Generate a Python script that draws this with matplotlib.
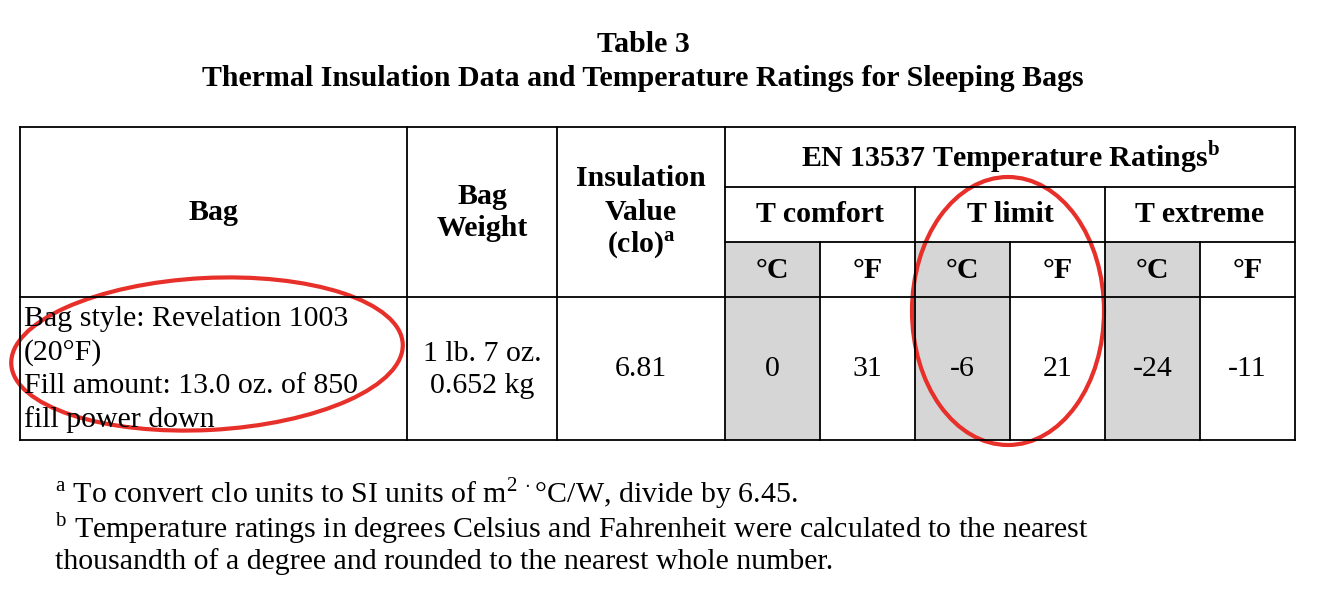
import matplotlib
matplotlib.use("Agg")
import matplotlib.pyplot as plt
from matplotlib.patches import Rectangle, Ellipse

plt.rcParams['font.family'] = ['Liberation Serif', 'DejaVu Serif']
plt.rcParams['mathtext.fontset'] = 'custom'
plt.rcParams['mathtext.rm'] = 'Liberation Serif'
plt.rcParams['mathtext.bf'] = 'Liberation Serif:bold'

title_lines = ["Table 3", "Thermal Insulation Data and Temperature Ratings for Sleeping Bags"]
bag_text = ["Bag style: Revelation 1003", "(20°F)", "Fill amount: 13.0 oz. of 850", "fill power down"]
weight_text = ["1 lb. 7 oz.", "0.652 kg"]
clo_value = "6.81"
rating_groups = ["T comfort", "T limit", "T extreme"]
units = ["°C", "°F"]
rating_values = ["0", "31", "-6", "21", "-24", "-11"]

fig = plt.figure(figsize=(13.2, 6), dpi=100)
ax = fig.add_axes([0, 0, 1, 1])
ax.set_xlim(0, 1320); ax.set_ylim(600, 0); ax.axis('off')

L, R, T, B = 20, 1295, 127, 440
colx = [725, 820, 915, 1010, 1105, 1200, 1295]
for i in (0, 2, 4):
    ax.add_patch(Rectangle((colx[i], 242), colx[i+1]-colx[i], B-242, fc='#d6d6d6', ec='none'))
lw = 1.3
def hl(y, x0, x1): ax.plot([x0, x1], [y, y], color='black', lw=lw)
def vl(x, y0, y1): ax.plot([x, x], [y0, y1], color='black', lw=lw)
hl(T, L, R); hl(B, L, R); hl(297, L, R)
hl(187, 725, R); hl(242, 725, R)
vl(L, T, B); vl(R, T, B)
for x in (407, 557, 725): vl(x, T, B)
for x in (915, 1105): vl(x, 187, B)
for x in (820, 1010, 1200): vl(x, 242, B)

fs = 21.5
tfs = 21.5
ax.text(643, 44, title_lines[0], ha='center', va='center', fontsize=tfs, fontweight='bold')
ax.text(643, 78, title_lines[1], ha='center', va='center', fontsize=tfs, fontweight='bold')

ax.text(213, 213, "Bag", ha='center', va='center', fontsize=fs, fontweight='bold')
ax.text(482, 197, "Bag", ha='center', va='center', fontsize=fs, fontweight='bold')
ax.text(482, 229, "Weight", ha='center', va='center', fontsize=fs, fontweight='bold')
ax.text(641, 179, "Insulation", ha='center', va='center', fontsize=fs, fontweight='bold')
ax.text(641, 212, "Value", ha='center', va='center', fontsize=fs, fontweight='bold')
ax.text(641, 245, r"(clo)$^{\mathbf{a}}$", ha='center', va='center', fontsize=fs, fontweight='bold')
ax.text(1010, 157, r"EN 13537 Temperature Ratings$^{\mathbf{b}}$", ha='center', va='center', fontsize=fs, fontweight='bold')
for i, g in enumerate(rating_groups):
    ax.text((colx[2*i]+colx[2*i+2])/2, 215, g, ha='center', va='center', fontsize=fs, fontweight='bold')
for i in range(6):
    ax.text((colx[i]+colx[i+1])/2, 270, units[i % 2], ha='center', va='center', fontsize=fs, fontweight='bold')
    ax.text((colx[i]+colx[i+1])/2, 369, rating_values[i], ha='center', va='center', fontsize=fs)

for k, s in enumerate(bag_text):
    ax.text(24, 319 + k*33.5, s, ha='left', va='center', fontsize=fs)
ax.text(482, 354, weight_text[0], ha='center', va='center', fontsize=fs)
ax.text(482, 386, weight_text[1], ha='center', va='center', fontsize=fs)
ax.text(641, 369, clo_value, ha='center', va='center', fontsize=fs)

ax.add_patch(Ellipse((207, 354), 392, 152, angle=-3, fc='none', ec='#e8302a', lw=3))
ax.add_patch(Ellipse((1008, 311), 192, 268, angle=0, fc='none', ec='#e8302a', lw=3))

ffs = 21.5
ax.text(55, 494, r"$^{\mathrm{a}}$ To convert clo units to SI units of m$^{2\,\cdot}$°C/W, divide by 6.45.", ha='left', va='center', fontsize=ffs)
ax.text(55, 528, r"$^{\mathrm{b}}$ Temperature ratings in degrees Celsius and Fahrenheit were calculated to the nearest", ha='left', va='center', fontsize=ffs)
ax.text(55, 562, "thousandth of a degree and rounded to the nearest whole number.", ha='left', va='center', fontsize=ffs)

fig.savefig("out.png", dpi=100, facecolor='white')
